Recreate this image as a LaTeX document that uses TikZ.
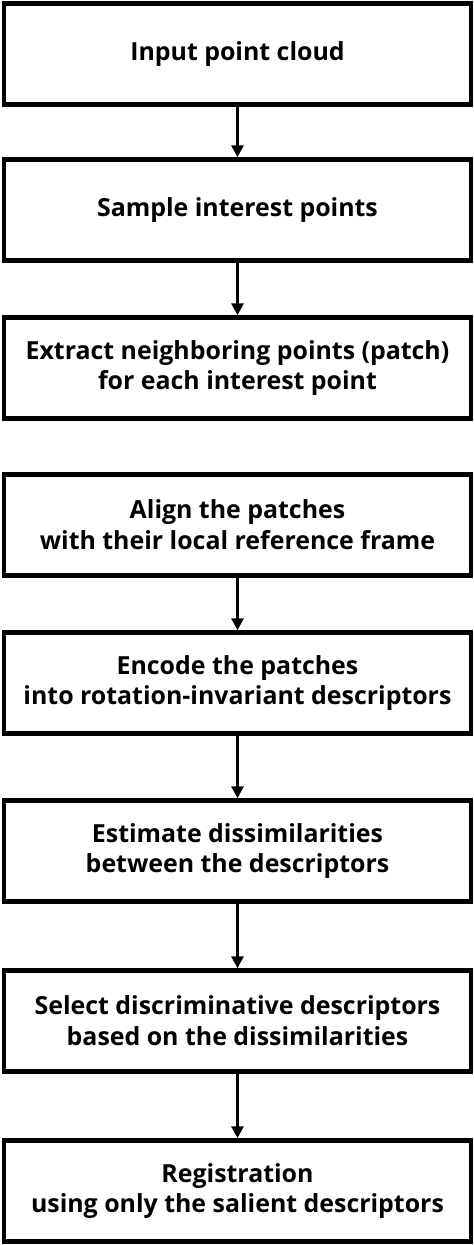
\documentclass[tikz,border=0pt]{standalone}
\usepackage{fontspec}
\setmainfont{Open Sans}[BoldFont={Open Sans Bold}]
\usetikzlibrary{arrows.meta}

\begin{document}
\begin{tikzpicture}[x=1bp, y=1bp,
    box_node/.style={rectangle, draw, line width=4.5bp, minimum width=467bp, minimum height=101bp, inner sep=0pt, align=center, font=\fontsize{25}{31}\selectfont\bfseries},
    flow_arrow/.style={line width=3.5bp, -{Triangle[width=12bp, length=12bp]}}]

    \useasboundingbox (0, 0) rectangle (474, -1245);
    \node[box_node] (1) at (237.5, -54) {Input point cloud};
    \node[box_node] (2) at (237.5, -210) {Sample interest points};
    \node[box_node] (3) at (237.5, -368) {Extract neighboring points (patch)\\for each interest point};
    \node[box_node] (4) at (237.5, -525) {Align the patches\\with their local reference frame};
    \node[box_node] (5) at (237.5, -683) {Encode the patches\\into rotation-invariant descriptors};
    \node[box_node] (6) at (237.5, -851) {Estimate dissimilarities\\between the descriptors};
    \node[box_node] (7) at (237.5, -1021) {Select discriminative descriptors\\based on the dissimilarities};
    \node[box_node] (8) at (237.5, -1191) {Registration\\using only the salient descriptors};
    \draw[flow_arrow] (1) -- (2);
    \draw[flow_arrow] (2) -- (3);
    \draw[flow_arrow] (4) -- (5);
    \draw[flow_arrow] (5) -- (6);
    \draw[flow_arrow] (6) -- (7);
    \draw[flow_arrow] (7) -- (8);
\end{tikzpicture}
\end{document}
